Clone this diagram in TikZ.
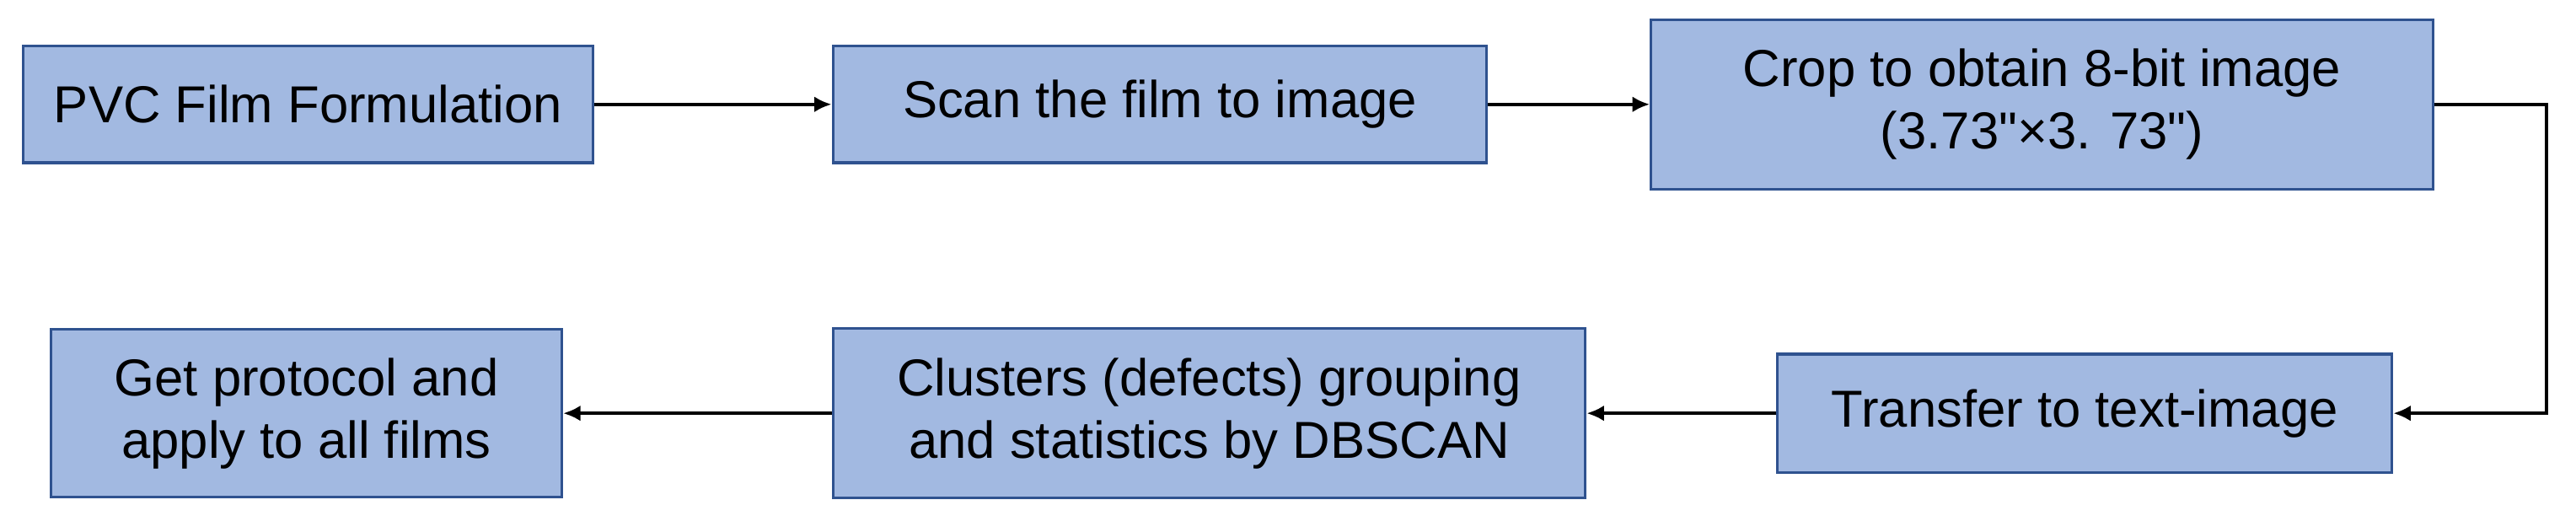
\documentclass[tikz,border=0pt]{standalone}
\usepackage{fontspec}
\setmainfont{Liberation Sans}
\newfontfamily\plainquote{Liberation Sans}
\usepackage{xcolor}
\definecolor{boxFill}{HTML}{A2B9E1}
\definecolor{boxEdge}{HTML}{2F528F}
\usepackage{tikz}
\usetikzlibrary{arrows.meta}

\begin{document}
\begin{tikzpicture}[>={Latex[length=6pt,width=5.5pt]},
  stepbox/.style={draw=boxEdge, fill=boxFill, line width=0.9pt, align=center,
    inner sep=0pt, font=\fontsize{18}{21.6}\selectfont},
  flow/.style={->, line width=1.3pt}]
  \useasboundingbox (0,0) rectangle (31.36,6.28);
  % top row
  \node[stepbox, minimum width=6.94cm, minimum height=1.42cm] (pvc) at (3.75,5.01)
    {PVC Film Formulation};
  \node[stepbox, minimum width=7.96cm, minimum height=1.42cm] (scan) at (14.12,5.01)
    {Scan the film to image};
  \node[stepbox, minimum width=9.52cm, minimum height=2.06cm] (crop) at (24.86,5.01)
    {Crop to obtain 8-bit image\\(3.73{\plainquote "}×3. 73{\plainquote "})};
  % bottom row
  \node[stepbox, minimum width=7.48cm, minimum height=1.44cm] (transfer) at (25.38,1.25)
    {Transfer to text-image};
  \node[stepbox, minimum width=9.16cm, minimum height=2.06cm] (clusters) at (14.72,1.25)
    {Clusters (defects) grouping\\and statistics by DBSCAN};
  \node[stepbox, minimum width=6.22cm, minimum height=2.04cm] (protocol) at (3.73,1.25)
    {Get protocol and\\apply to all films};
  % connectors
  \coordinate (turn) at (31.0,5.01);
  \draw[flow] (pvc) -- (scan);
  \draw[flow] (scan) -- (crop);
  \draw[flow] (crop.east) -- (turn) |- (transfer.east);
  \draw[flow] (transfer) -- (clusters);
  \draw[flow] (clusters) -- (protocol);
\end{tikzpicture}
\end{document}
